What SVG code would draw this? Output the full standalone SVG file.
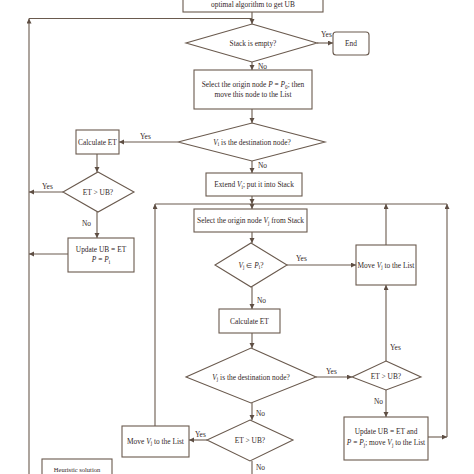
<svg xmlns="http://www.w3.org/2000/svg" width="474" height="474" viewBox="0 0 474 474">
<defs>
<marker id="ah" markerUnits="userSpaceOnUse" markerWidth="6" markerHeight="6" refX="5" refY="2.5" orient="auto">
<path d="M0,0 L5,2.5 L0,5 z" fill="#5e4e43"/>
</marker>
<style>
.n{fill:#ffffff;stroke:#6a5a4e;stroke-width:1.1}
.c{fill:none;stroke:#6a5a4e;stroke-width:1.1}
.a{fill:none;stroke:#6a5a4e;stroke-width:1.1;marker-end:url(#ah)}
text{font-family:"Liberation Serif","Times New Roman",serif;font-size:7.4px;fill:#33271f}
.m{text-anchor:middle}
.i{font-style:italic}
.s{font-size:5.2px}
</style>
</defs>
<rect width="474" height="474" fill="#ffffff"/>
<g id="connectors">
<path class="a" d="M252,12 L252,24"/>
<path class="a" d="M29,474 L29,18.5"/>
<path class="c" d="M29,18.5 L252,18.5"/>
<path class="a" d="M317,43 L333,43"/>
<path class="a" d="M252,62 L252,70"/>
<path class="a" d="M252,109 L252,123"/>
<path class="a" d="M178,142 L119,142"/>
<path class="a" d="M252,161 L252,173"/>
<path class="a" d="M252,196 L252,204"/>
<path class="a" d="M252,204 L252,209"/>
<path class="c" d="M155,204 L447,204"/>
<path class="a" d="M155,426 L155,204"/>
<path class="a" d="M386,245 L386,204"/>
<path class="a" d="M428,437 L447,437"/>
<path class="a" d="M447,437 L447,204"/>
<path class="a" d="M252,232 L252,243"/>
<path class="a" d="M287,265 L356,265"/>
<path class="a" d="M252,287 L252,309"/>
<path class="a" d="M252,333 L252,348"/>
<path class="a" d="M316,377 L352,377"/>
<path class="a" d="M386,361 L386,285"/>
<path class="a" d="M386,390 L386,417"/>
<path class="a" d="M252,403 L252,420"/>
<path class="a" d="M207,440 L189,440"/>
<path class="c" d="M252,461 L252,474"/>
<path class="a" d="M97,154 L97,172"/>
<path class="a" d="M63,192 L29,192"/>
<path class="a" d="M97,212 L97,238"/>
<path class="a" d="M68,254 L29,254"/>
<text x="321" y="37">Yes</text>
<text x="258" y="69">No</text>
<text x="140" y="139">Yes</text>
<text x="258" y="168">No</text>
<text x="42" y="189">Yes</text>
<text x="82" y="226">No</text>
<text x="296" y="261">Yes</text>
<text x="257" y="303">No</text>
<text x="326" y="374">Yes</text>
<text x="390" y="350">Yes</text>
<text x="374" y="404">No</text>
<text x="256" y="416">No</text>
<text x="195" y="437">Yes</text>
<text x="256" y="470">No</text>
</g>
<g id="n-top">
<rect class="n" x="183" y="-22" width="140" height="34"/>
<text class="m" x="253" y="6.5">optimal algorithm to get UB</text>
</g>
<g id="n-stack-empty">
<path class="n" d="M252,24 L317,43 L252,62 L186,43 z"/>
<text class="m" x="253" y="45.5">Stack is empty?</text>
</g>
<g id="n-end">
<rect class="n" x="333" y="32" width="36" height="23" rx="3"/>
<text class="m" x="351" y="45.5">End</text>
</g>
<g id="n-select-p">
<rect class="n" x="194" y="70" width="118" height="39"/>
<text class="m" x="253" y="87">Select the origin node <tspan class="i">P</tspan> = <tspan class="i">P</tspan><tspan class="s" dy="1.5">0</tspan><tspan dy="-1.5">; then</tspan></text>
<text class="m" x="253" y="96.5">move this node to the List</text>
</g>
<g id="n-vi-dest">
<path class="n" d="M252,123 L325,142 L252,161 L178,142 z"/>
<text class="m" x="252" y="144.5"><tspan class="i">V</tspan><tspan class="s" dy="1.5">i</tspan><tspan dy="-1.5"> is the destination node?</tspan></text>
</g>
<g id="n-calc-et-1">
<rect class="n" x="76" y="130" width="43" height="24"/>
<text class="m" x="97.5" y="144.5">Calculate ET</text>
</g>
<g id="n-et-ub-1">
<path class="n" d="M98,172 L134,192 L98,212 L63,192 z"/>
<text class="m" x="98" y="194.5">ET &gt; UB?</text>
</g>
<g id="n-update-1">
<rect class="n" x="68" y="238" width="66" height="34"/>
<text class="m" x="101" y="252">Update UB = ET</text>
<text class="m" x="101" y="262"><tspan class="i">P</tspan> = <tspan class="i">P</tspan><tspan class="s" dy="1.5">i</tspan></text>
</g>
<g id="n-extend">
<rect class="n" x="206" y="173" width="96" height="23"/>
<text class="m" x="254" y="187"><tspan>Extend </tspan><tspan class="i">V</tspan><tspan class="s" dy="1.5">i</tspan><tspan dy="-1.5">; put it into Stack</tspan></text>
</g>
<g id="n-select-vj">
<rect class="n" x="194" y="209" width="113" height="23"/>
<text class="m" x="250.5" y="223"><tspan>Select the origin node </tspan><tspan class="i">V</tspan><tspan class="s" dy="1.5">j</tspan><tspan dy="-1.5"> from Stack</tspan></text>
</g>
<g id="n-vj-in-pi">
<path class="n" d="M251,243 L287,265 L251,287 L215,265 z"/>
<text class="m" x="251" y="267.5"><tspan class="i">V</tspan><tspan class="s" dy="1.5">j</tspan><tspan dy="-1.5"> ∈ </tspan><tspan class="i">P</tspan><tspan class="s" dy="1.5">i</tspan><tspan dy="-1.5">?</tspan></text>
</g>
<g id="n-move-1">
<rect class="n" x="356" y="245" width="60" height="40"/>
<text class="m" x="386" y="267.5"><tspan>Move </tspan><tspan class="i">V</tspan><tspan class="s" dy="1.5">j</tspan><tspan dy="-1.5"> to the List</tspan></text>
</g>
<g id="n-calc-et-2">
<rect class="n" x="219" y="309" width="61" height="24"/>
<text class="m" x="249.5" y="323.5">Calculate ET</text>
</g>
<g id="n-vj-dest">
<path class="n" d="M251,348 L316,377 L251,403 L186,377 z"/>
<text class="m" x="251" y="379.5"><tspan class="i">V</tspan><tspan class="s" dy="1.5">j</tspan><tspan dy="-1.5"> is the destination node?</tspan></text>
</g>
<g id="n-et-ub-2">
<path class="n" d="M386,361 L421,377 L386,390 L352,377 z"/>
<text class="m" x="386" y="379">ET &gt; UB?</text>
</g>
<g id="n-update-2">
<rect class="n" x="344" y="417" width="84" height="43"/>
<text class="m" x="386" y="434">Update UB = ET and</text>
<text class="m" x="386" y="445"><tspan class="i">P</tspan> = <tspan class="i">P</tspan><tspan class="s" dy="1.5">j</tspan><tspan dy="-1.5">; move </tspan><tspan class="i">V</tspan><tspan class="s" dy="1.5">j</tspan><tspan dy="-1.5"> to the List</tspan></text>
</g>
<g id="n-et-ub-3">
<path class="n" d="M250,420 L293,440 L250,461 L207,440 z"/>
<text class="m" x="250" y="442.5">ET &gt; UB?</text>
</g>
<g id="n-move-2">
<rect class="n" x="122" y="426" width="67" height="31"/>
<text class="m" x="155.5" y="443.5"><tspan>Move </tspan><tspan class="i">V</tspan><tspan class="s" dy="1.5">j</tspan><tspan dy="-1.5"> to the List</tspan></text>
</g>
<g id="n-bottom-left">
<rect class="n" x="42" y="459" width="70" height="30"/>
<text class="m" x="77" y="471.5" fill="#8a7d74" style="font-size:6.5px">Heuristic solution</text>
</g>
</svg>
